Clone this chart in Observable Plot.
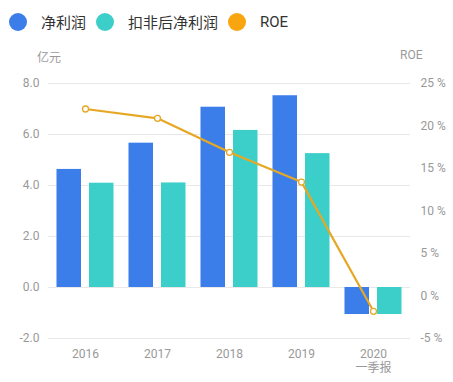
<!DOCTYPE html>
<html>
<head>
<meta charset="utf-8">
<script src="https://cdn.jsdelivr.net/npm/d3@7"></script>
<script src="https://cdn.jsdelivr.net/npm/@observablehq/plot@0.6"></script>
<style>
  body { margin: 0; background: #fff; font-family: Roboto, "Noto Sans CJK SC", sans-serif; }
  #wrap { width: 453px; height: 382px; position: relative; overflow: hidden; }
  .legend { position: absolute; top: 11px; left: 9px; display: flex; align-items: center; font-size: 15px; color: #333; font-family: Roboto, "Noto Sans CJK SC", sans-serif; }
  .legend .sw { width: 18px; height: 18px; border-radius: 50%; display: inline-block; margin-right: 14px; }
  .legend .item { display: flex; align-items: center; margin-right: 10px; }
  .unit { position: absolute; top: 48px; font-size: 12px; color: #999; font-family: Roboto, "Noto Sans CJK SC", sans-serif; }
  #chart { position: absolute; top: 65px; left: 0; }
</style>
</head>
<body>
<div id="wrap">
  <div class="legend" id="legend"></div>
  <div class="unit" style="left:37px">亿元</div>
  <div class="unit" style="left:400px">ROE</div>
  <div id="chart"></div>
</div>
<script>
const years = ["2016", "2017", "2018", "2019", "2020\n一季报"];
const netProfit = [4.63, 5.66, 7.07, 7.52, -1.06];
const deductedProfit = [4.09, 4.10, 6.16, 5.25, -1.06];
const roe = [22.0, 20.9, 16.9, 13.4, -1.8];
const leftTicks = [-2, 0, 2, 4, 6, 8];
const roeTicks = [-5, 0, 5, 10, 15, 20, 25];
const seriesNames = ["净利润", "扣非后净利润", "ROE"];
const seriesColors = ["#3b7de9", "#3ccfca", "#f8a50f"];

// legend
const leg = document.getElementById("legend");
seriesNames.forEach((n, i) => {
  const it = document.createElement("span");
  it.className = "item";
  it.innerHTML = `<span class="sw" style="background:${seriesColors[i]}"></span>${n}`;
  leg.appendChild(it);
});

// map ROE (%) onto left axis units: 25 -> 8, -5 -> -2
const toLeft = r => (r - 25) / 3 + 8;
const fromLeft = v => (v - 8) * 3 + 25;

const rows = years.map((y, i) => ({year: y, net: netProfit[i], ded: deductedProfit[i], roe: roe[i], roeY: toLeft(roe[i])}));

const chart = Plot.plot({
  width: 453,
  height: 317,
  marginLeft: 48,
  marginRight: 43,
  marginTop: 18,
  marginBottom: 44,
  style: {fontFamily: "Roboto, 'Noto Sans CJK SC', sans-serif", fontSize: "12px", color: "#999"},
  x: {domain: years, padding: 0, label: null},
  y: {domain: [-2, 8], label: null},
  marks: [
    Plot.gridY(leftTicks, {stroke: "#e8e8e8", strokeOpacity: 1}),
    Plot.barY(rows, {x: "year", y: "net", fill: seriesColors[0], insetLeft: 7.5, insetRight: 40}),
    Plot.barY(rows, {x: "year", y: "ded", fill: seriesColors[1], insetLeft: 40, insetRight: 7.5}),
    Plot.line(rows, {x: "year", y: "roeY", stroke: "#e6a824", strokeWidth: 2.2}),
    Plot.dot(rows, {x: "year", y: "roeY", r: 3, fill: "#fff", stroke: "#e6a824", strokeWidth: 1.3}),
    Plot.axisY(leftTicks, {anchor: "left", tickSize: 0, tickPadding: 9, tickFormat: d => d.toFixed(1), fill: "#999", fontSize: 12}),
    Plot.axisY(roeTicks.map(toLeft), {anchor: "right", tickSize: 0, tickPadding: 10, tickFormat: d => Math.round(fromLeft(d)) + " %", fill: "#999", fontSize: 12}),
    Plot.axisX({tickSize: 0, tickPadding: 10, fill: "#999", fontSize: 12, lineHeight: 1.15})
  ]
});
document.getElementById("chart").appendChild(chart);
</script>
</body>
</html>
